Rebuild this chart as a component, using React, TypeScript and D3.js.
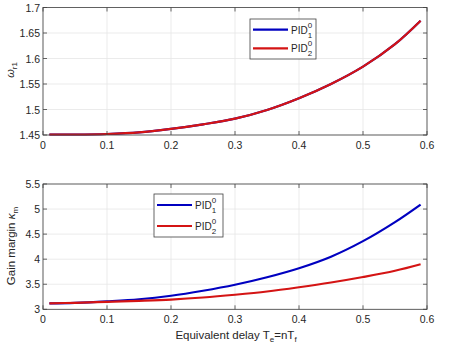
import React from "react";
import * as d3 from "d3";

const delay = [0.01, 0.05, 0.1, 0.15, 0.2, 0.25, 0.3, 0.35, 0.4, 0.45, 0.5, 0.55, 0.59];
const omegaPID2 = [1.451, 1.451, 1.452, 1.455, 1.462, 1.471, 1.482, 1.499, 1.522, 1.55, 1.584, 1.628, 1.674];
const gainPID1 = [3.12, 3.13, 3.16, 3.2, 3.27, 3.37, 3.49, 3.64, 3.82, 4.05, 4.36, 4.74, 5.09];
const gainPID2 = [3.12, 3.13, 3.15, 3.17, 3.195, 3.235, 3.29, 3.355, 3.44, 3.535, 3.645, 3.77, 3.9];
const xTicks = [0, 0.1, 0.2, 0.3, 0.4, 0.5, 0.6];
const topYTicks = [1.45, 1.5, 1.55, 1.6, 1.65, 1.7];
const botYTicks = [3, 3.5, 4, 4.5, 5, 5.5];

const W = 474, H = 351;
const L = 43, R = 427;
const FONT = "Arial, 'Liberation Sans', sans-serif";
const BLUE = "#0000c0";
const RED = "#d41414";
const AX = "#404040";

function Panel({ top, bottom, ydom, yticks, series, legend }: any) {
  const x = d3.scaleLinear().domain([0, 0.6]).range([L, R]);
  const y = d3.scaleLinear().domain(ydom).range([bottom, top]);
  const line = d3.line<number>().x((_, i) => x(delay[i])).y((d) => y(d)).curve(d3.curveCatmullRom.alpha(0.5));
  return (
    <g>
      <rect x={L} y={top} width={R - L} height={bottom - top} fill="white" />
      {xTicks.map((t) => (
        <line key={"gx" + t} x1={x(t)} x2={x(t)} y1={top} y2={bottom} stroke="#e6e6e6" strokeWidth={0.8} />
      ))}
      {yticks.map((t: number) => (
        <line key={"gy" + t} x1={L} x2={R} y1={y(t)} y2={y(t)} stroke="#e6e6e6" strokeWidth={0.8} />
      ))}
      {series.map((s: any, i: number) => (
        <path key={i} d={line(s.values) || ""} fill="none" stroke={s.color} strokeWidth={2.2} />
      ))}
      <rect x={L} y={top} width={R - L} height={bottom - top} fill="none" stroke={AX} strokeWidth={0.8} />
      {xTicks.map((t) => (
        <g key={"tx" + t}>
          <line x1={x(t)} x2={x(t)} y1={bottom} y2={bottom - 4} stroke={AX} strokeWidth={0.8} />
          <line x1={x(t)} x2={x(t)} y1={top} y2={top + 4} stroke={AX} strokeWidth={0.8} />
          <text x={x(t)} y={bottom + 14} textAnchor="middle" fontSize={10.5} fill="#262626" fontFamily={FONT}>
            {String(t)}
          </text>
        </g>
      ))}
      {yticks.map((t: number) => (
        <g key={"ty" + t}>
          <line x1={L} x2={L + 4} y1={y(t)} y2={y(t)} stroke={AX} strokeWidth={0.8} />
          <line x1={R} x2={R - 4} y1={y(t)} y2={y(t)} stroke={AX} strokeWidth={0.8} />
          <text x={L - 3} y={y(t) + 4} textAnchor="end" fontSize={10.5} fill="#262626" fontFamily={FONT}>
            {String(t)}
          </text>
        </g>
      ))}
      <g>
        <rect x={legend.x} y={legend.y} width={legend.w} height={legend.h} fill="white" stroke={AX} strokeWidth={0.8} />
        {[BLUE, RED].map((c, i) => {
          const ly = legend.y + legend.first + i * legend.gap;
          return (
            <g key={i}>
              <line x1={legend.x + 3} x2={legend.x + 38} y1={ly} y2={ly} stroke={c} strokeWidth={2.2} />
              <text x={legend.x + 41} y={ly + 4} fontSize={10} fill="#262626" fontFamily={FONT}>
                PID
                <tspan fontSize={8} dy={-6}>0</tspan>
                <tspan fontSize={8} dx={-4.5} dy={10}>{String(i + 1)}</tspan>
              </text>
            </g>
          );
        })}
      </g>
    </g>
  );
}

export default function App() {
  return (
    <svg width={W} height={H} style={{ position: "absolute", left: 0, top: 0, background: "white" }}>
      <rect width={W} height={H} fill="white" />
      <Panel
        top={7.5}
        bottom={135}
        ydom={[1.45, 1.7]}
        yticks={topYTicks}
        series={[
          { values: omegaPID2, color: BLUE },
          { values: omegaPID2, color: RED },
        ]}
        legend={{ x: 250, y: 19, w: 66, h: 40, first: 10.7, gap: 18.6 }}
      />
      <Panel
        top={184}
        bottom={309.3}
        ydom={[3, 5.5]}
        yticks={botYTicks}
        series={[
          { values: gainPID1, color: BLUE },
          { values: gainPID2, color: RED },
        ]}
        legend={{ x: 154, y: 194, w: 69, h: 43, first: 11, gap: 21 }}
      />
      <text transform="translate(14,70) rotate(-90)" fontSize={11} fill="#262626" fontFamily={FONT} textAnchor="middle">
        <tspan fontStyle="italic">ω</tspan>
        <tspan fontSize={8} dy={3}>r1</tspan>
      </text>
      <text transform="translate(15,246) rotate(-90)" fontSize={11.5} fill="#262626" fontFamily={FONT} textAnchor="middle">
        Gain margin <tspan fontStyle="italic">κ</tspan>
        <tspan fontSize={8} dy={3}>m</tspan>
      </text>
      <text x={236} y={339} fontSize={11.5} fill="#262626" fontFamily={FONT} textAnchor="middle">
        Equivalent delay T<tspan fontSize={8} dy={3}>e</tspan>
        <tspan dy={-3}>=nT</tspan>
        <tspan fontSize={8} dy={3}>f</tspan>
      </text>
    </svg>
  );
}
